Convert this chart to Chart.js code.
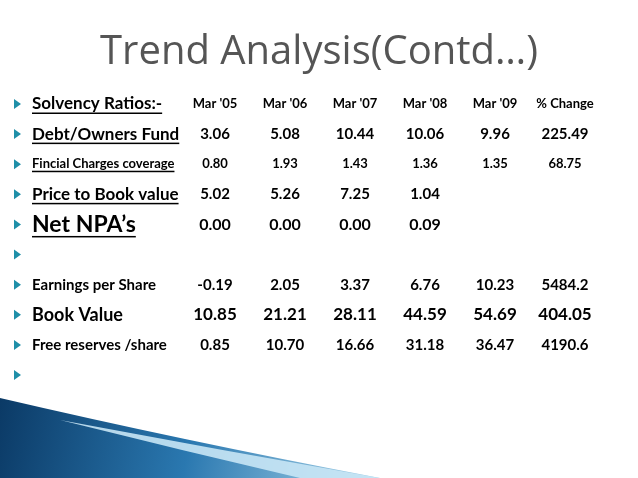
<!DOCTYPE html>
<html><head><meta charset="utf-8">
<script src="https://cdn.jsdelivr.net/npm/chart.js@4/dist/chart.umd.min.js"></script>
<style>html,body{margin:0;padding:0;background:#fff;}#wrap{position:relative;width:638px;height:478px;}canvas{position:absolute;left:0;top:0;}</style>
</head><body><div id="wrap"><canvas id="bg" width="638" height="478"></canvas><canvas id="c" width="638" height="478"></canvas></div>
<script>
const title = "Trend Analysis(Contd…)";
const columns = ["Mar '05","Mar '06","Mar '07","Mar '08","Mar '09","% Change"];
const rowLabels = ["Solvency Ratios:-","Debt/Owners Fund","Fincial Charges coverage","Price to Book value","Net NPA’s","","Earnings per Share","Book Value","Free reserves /share",""];
const debtOwners = ["3.06","5.08","10.44","10.06","9.96","225.49"];
const finCharges = ["0.80","1.93","1.43","1.36","1.35","68.75"];
const priceBook = ["5.02","5.26","7.25","1.04","",""];
const netNPA = ["0.00","0.00","0.00","0.09","",""];
const eps = ["-0.19","2.05","3.37","6.76","10.23","5484.2"];
const bookValue = ["10.85","21.21","28.11","44.59","54.69","404.05"];
const freeReserves = ["0.85","10.70","16.66","31.18","36.47","4190.6"];
const rowValues = [columns, debtOwners, finCharges, priceBook, netNPA, [], eps, bookValue, freeReserves, []];

const labelStyle = [
 {s:17,u:true},{s:17,u:true},{s:13,u:true},{s:17,u:true},{s:23,u:true},{s:0},{s:15},{s:18},{s:15},{s:0}];
const valSize = [13,15,13,15,16,0,15,17,15,0];

const b = document.getElementById('bg').getContext('2d');
let g = b.createLinearGradient(0,400,380,478);
g.addColorStop(0,'#0b3a66'); g.addColorStop(0.5,'#2a78b0'); g.addColorStop(1,'#a8d4ea');
b.fillStyle=g; b.beginPath(); b.moveTo(0,398); b.quadraticCurveTo(180,440,380,478); b.lineTo(0,478); b.closePath(); b.fill();
b.fillStyle='rgba(200,230,245,0.9)'; b.beginPath(); b.moveTo(60,420); b.quadraticCurveTo(220,450,380,478); b.lineTo(300,478); b.quadraticCurveTo(180,450,60,420); b.fill();

const textPlugin = {
 id:'txt',
 afterDraw(chart){
  const ctx=chart.ctx, xs=chart.scales.x, ys=chart.scales.y;
  ctx.save();
  ctx.fillStyle='#555'; ctx.font='40px "Open Sans", sans-serif'; ctx.textAlign='center'; ctx.textBaseline='middle';
  ctx.fillText(title,319,53);
  rowLabels.forEach((lab,i)=>{
   const y=ys.getPixelForValue(i);
   ctx.fillStyle='#1f8fa8'; ctx.beginPath(); ctx.moveTo(14,y-5); ctx.lineTo(21,y); ctx.lineTo(14,y+5); ctx.closePath(); ctx.fill();
   ctx.fillStyle='#000'; ctx.textAlign='left'; ctx.textBaseline='middle';
   if(lab){
    const st=labelStyle[i];
    ctx.font='bold '+st.s+'px Lato, sans-serif';
    ctx.fillText(lab,32,y);
    if(st.u){const w=ctx.measureText(lab).width; ctx.fillRect(32,y+st.s*0.5,w,1.5);}
   }
   ctx.textAlign='center';
   ctx.font='bold '+valSize[i]+'px Lato, sans-serif';
   rowValues[i].forEach((v,j)=>{ if(v) ctx.fillText(v, xs.getPixelForValue(j), y); });
  });
  ctx.restore();
 }
};
new Chart(document.getElementById('c'),{
 type:'bar',
 data:{labels:columns,datasets:[{data:[]}]},
 options:{responsive:false,animation:false,events:[],
  layout:{padding:{left:180,right:38,top:104,bottom:103}},
  plugins:{legend:{display:false},tooltip:{enabled:false}},
  scales:{x:{type:'category',labels:columns,display:false},
          y:{type:'category',labels:rowLabels.map((l,i)=>String(i)),display:false,offset:false}}},
 plugins:[textPlugin]
});
</script></body></html>
